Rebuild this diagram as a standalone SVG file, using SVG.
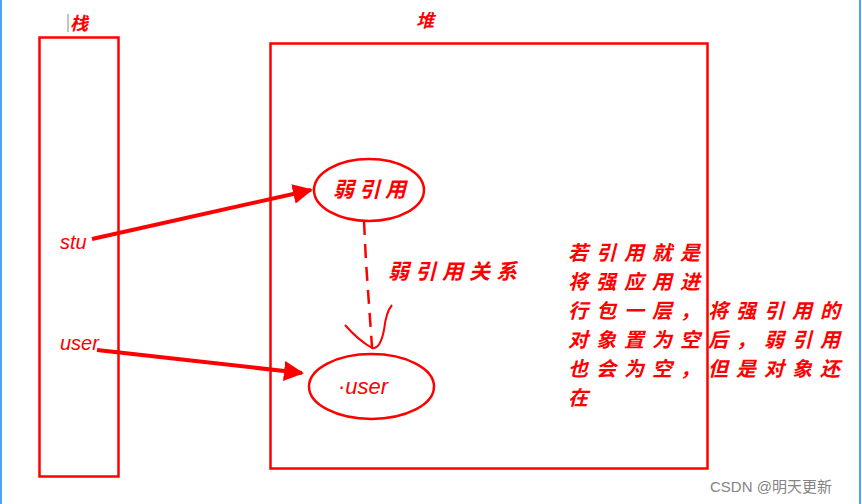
<svg xmlns="http://www.w3.org/2000/svg" width="862" height="504" viewBox="0 0 862 504">
<defs>
<style>
.box{fill:none;stroke:#ff0000;stroke-width:2.5}
.t{fill:#ff0000;font-family:"Noto Sans CJK SC","Liberation Sans",sans-serif;font-style:italic;font-weight:bold}
.lt{fill:#ff0000;font-family:"Liberation Sans","DejaVu Sans",sans-serif;font-style:italic}
.conn{stroke:#ff0000;stroke-width:4;fill:none}
</style>
<marker id="ah" viewBox="0 0 10 10" refX="9" refY="5" markerWidth="5" markerHeight="5" orient="auto" markerUnits="strokeWidth">
<path d="M0,0 L10,5 L0,10 z" fill="#ff0000"/>
</marker>
</defs>
<rect width="862" height="504" fill="#ffffff"/>
<line x1="1" y1="0" x2="1" y2="504" stroke="#4da3f5" stroke-width="2"/>
<line x1="860" y1="0" x2="860" y2="504" stroke="#4da3f5" stroke-width="2"/>
<g id="stack">
<rect class="box" x="39.5" y="37.5" width="79" height="439"/>
<line x1="68" y1="14" x2="68" y2="32" stroke="#888" stroke-width="1"/>
<text class="t" x="70" y="30" font-size="18">栈</text>
<text class="lt" x="60" y="249" font-size="20">stu</text>
<text class="lt" x="60" y="350" font-size="20">user</text>
</g>
<g id="heap">
<rect class="box" x="270.5" y="43.5" width="437" height="425"/>
<text class="t" x="416" y="27" font-size="18">堆</text>
</g>
<g id="weakref">
<ellipse cx="369" cy="190" rx="55" ry="31" fill="none" stroke="#ff0000" stroke-width="2.5"/>
<text class="t" x="333" y="197" font-size="21" letter-spacing="5">弱引用</text>
</g>
<g id="user">
<ellipse cx="371.5" cy="386.5" rx="62.5" ry="32.5" fill="none" stroke="#ff0000" stroke-width="2.5"/>
<text class="lt" x="338" y="394" font-size="22">·user</text>
</g>
<g id="connectors">
<line class="conn" x1="92" y1="239" x2="311" y2="190" marker-end="url(#ah)"/>
<line class="conn" x1="97" y1="350" x2="302" y2="373" marker-end="url(#ah)"/>
<path d="M364,221 L366,262 L372,347" fill="none" stroke="#ff0000" stroke-width="2.5" stroke-dasharray="14,9"/>
<path d="M345,325 Q358,340 372,348 Q380,350 384,330 Q386,312 392,305" fill="none" stroke="#ff0000" stroke-width="2"/>
</g>
<g id="labels">
<text class="t" x="388" y="279" font-size="21" letter-spacing="6">弱引用关系</text>
<g class="t" font-size="20" letter-spacing="8">
<text x="568" y="260">若引用就是</text>
<text x="568" y="289">将强应用进</text>
<text x="568" y="318">行包一层，将强引用的</text>
<text x="568" y="347">对象置为空后，弱引用</text>
<text x="568" y="376">也会为空，但是对象还</text>
<text x="568" y="405">在</text>
</g>
</g>
<text x="710" y="492" font-family="'Liberation Sans','Noto Sans CJK SC',sans-serif" font-size="15" fill="#777" opacity="0.9">CSDN @明天更新</text>
</svg>
